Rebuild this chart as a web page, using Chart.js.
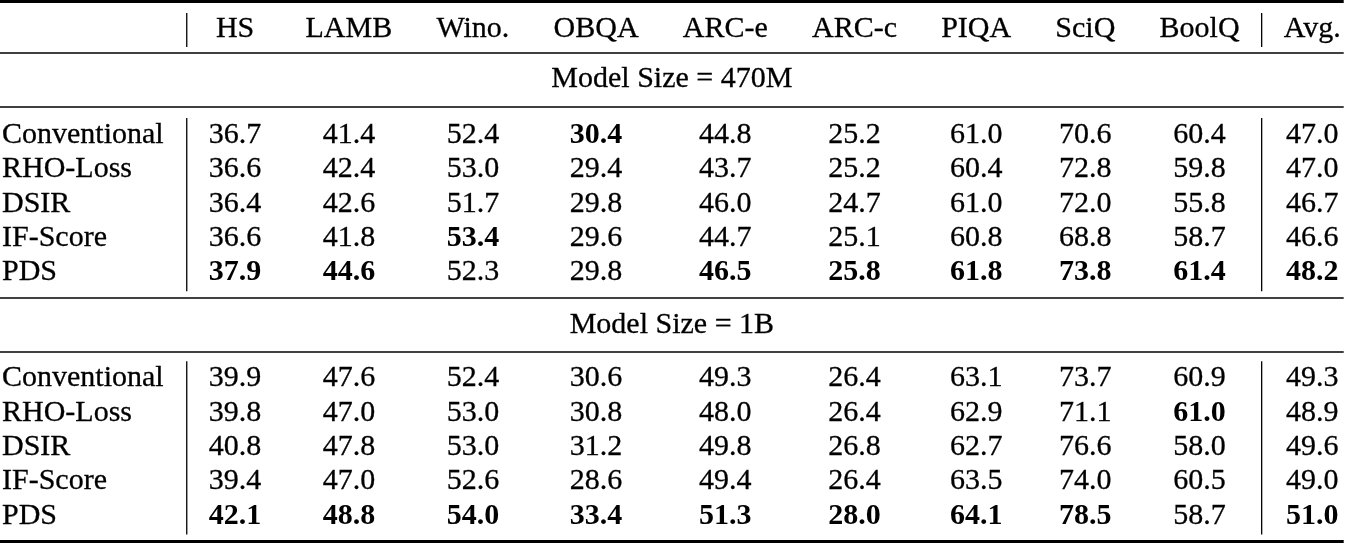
<!DOCTYPE html>
<html>
<head>
<meta charset="utf-8">
<script src="https://cdn.jsdelivr.net/npm/chart.js@4.4.1/dist/chart.umd.min.js"></script>
<style>
html, body { margin: 0; padding: 0; background: #fff; }
#wrap { width: 1349px; height: 547px; }
</style>
</head>
<body>
<div id="wrap"><canvas id="myChart"></canvas></div>
<script>
// table content
const benchmarks = ["HS", "LAMB", "Wino.", "OBQA", "ARC-e", "ARC-c", "PIQA", "SciQ", "BoolQ"];
const avgLabel = "Avg.";
const methods = ["Conventional", "RHO-Loss", "DSIR", "IF-Score", "PDS"];
const groupTitles = ["Model Size = 470M", "Model Size = 1B"];

const scores470M = [
  [36.7, 41.4, 52.4, 30.4, 44.8, 25.2, 61.0, 70.6, 60.4],
  [36.6, 42.4, 53.0, 29.4, 43.7, 25.2, 60.4, 72.8, 59.8],
  [36.4, 42.6, 51.7, 29.8, 46.0, 24.7, 61.0, 72.0, 55.8],
  [36.6, 41.8, 53.4, 29.6, 44.7, 25.1, 60.8, 68.8, 58.7],
  [37.9, 44.6, 52.3, 29.8, 46.5, 25.8, 61.8, 73.8, 61.4]
];
const avg470M = [47.0, 47.0, 46.7, 46.6, 48.2];

const scores1B = [
  [39.9, 47.6, 52.4, 30.6, 49.3, 26.4, 63.1, 73.7, 60.9],
  [39.8, 47.0, 53.0, 30.8, 48.0, 26.4, 62.9, 71.1, 61.0],
  [40.8, 47.8, 53.0, 31.2, 49.8, 26.8, 62.7, 76.6, 58.0],
  [39.4, 47.0, 52.6, 28.6, 49.4, 26.4, 63.5, 74.0, 60.5],
  [42.1, 48.8, 54.0, 33.4, 51.3, 28.0, 64.1, 78.5, 58.7]
];
const avg1B = [49.3, 48.9, 49.6, 49.0, 51.0];

// layout / style
const FONT = "'Liberation Serif', 'Times New Roman', serif";
const FONT_PX = 30;
const SEP = 22.1;
const PAD_L = 3, PAD_R = 3;
const W = 1349, H = 547;
const HEADER_Y = 37;
const TITLE_Y = [87, 333];
const BLOCK_Y = [143, 386.3];
const ROW_PITCH = 34.3;
const RULES = [[1.5, 3], [53, 1.6], [107, 1.6], [298, 1.6], [352, 1.6], [541.5, 3]];

const groups = [
  { title: groupTitles[0], scores: scores470M, avg: avg470M },
  { title: groupTitles[1], scores: scores1B, avg: avg1B }
];

const meas = document.createElement("canvas").getContext("2d");
function fontStr(bold) { return (bold ? "bold " : "") + FONT_PX + "px " + FONT; }
function textW(t, bold) { meas.font = fontStr(bold); return meas.measureText(t).width; }

// column widths like a tabular: widest entry + padding on both sides
const labelW = Math.max(...methods.map(m => textW(m)));
const colW = benchmarks.map((b, c) => Math.max(textW(b),
  ...groups.flatMap(g => g.scores.map(r => textW(r[c].toFixed(1), true)))));
const avgW = Math.max(textW(avgLabel), ...groups.flatMap(g => g.avg.map(v => textW(v.toFixed(1), true))));

const bar1 = PAD_L + labelW + SEP;
const colCenter = [];
let xRun = bar1;
colW.forEach(w => { colCenter.push(xRun + SEP + w / 2); xRun += w + 2 * SEP; });
const bar2 = xRun;
const avgCenter = bar2 + SEP + avgW / 2;
const tableRight = bar2 + SEP + avgW + PAD_R;

// cells as scatter points (value carried along for the label)
function colMax(scores, c) { return Math.max(...scores.map(r => r[c])); }
const datasets = groups.map((g, gi) => {
  const pts = [];
  g.scores.forEach((row, r) => {
    const y = BLOCK_Y[gi] + r * ROW_PITCH;
    row.forEach((v, c) => pts.push({ x: colCenter[c], y: y, v: v, bold: v === colMax(g.scores, c) }));
    const amax = Math.max(...g.avg);
    pts.push({ x: avgCenter, y: y, v: g.avg[r], bold: g.avg[r] === amax });
  });
  return { label: g.title, data: pts, pointRadius: 0, showLine: false };
});

// regular glyphs a touch heavier, like the printed table
function putText(ctx, t, x, y, bold) {
  ctx.font = fontStr(bold);
  ctx.fillText(t, x, y);
  if (!bold) {
    ctx.lineWidth = 0.3;
    ctx.strokeText(t, x, y);
  }
}

const tablePlugin = {
  id: "tableText",
  afterDatasetsDraw(chart) {
    const ctx = chart.ctx;
    const xs = chart.scales.x, ys = chart.scales.y;
    const px = v => xs.getPixelForValue(v), py = v => ys.getPixelForValue(v);
    ctx.save();
    ctx.fillStyle = "#000";
    ctx.strokeStyle = "#000";
    ctx.textBaseline = "alphabetic";

    // horizontal rules
    RULES.forEach(([y, lw]) => {
      ctx.lineWidth = lw;
      ctx.beginPath();
      ctx.moveTo(px(0), py(y));
      ctx.lineTo(px(tableRight), py(y));
      ctx.stroke();
    });

    // vertical separators
    ctx.lineWidth = 1.3;
    const spans = [[HEADER_Y - 24, HEADER_Y + 10]];
    BLOCK_Y.forEach(b => spans.push([b - 25, b + (methods.length - 1) * ROW_PITCH + 11]));
    spans.forEach(([a, b]) => {
      [bar1, bar2].forEach(x => {
        ctx.beginPath();
        ctx.moveTo(px(x), py(a));
        ctx.lineTo(px(x), py(b));
        ctx.stroke();
      });
    });

    // header
    ctx.textAlign = "center";
    benchmarks.forEach((b, c) => putText(ctx, b, px(colCenter[c]), py(HEADER_Y), false));
    putText(ctx, avgLabel, px(avgCenter), py(HEADER_Y), false);

    // group titles (span whole table) and method names
    groups.forEach((g, gi) => {
      ctx.textAlign = "center";
      putText(ctx, g.title, px(tableRight / 2), py(TITLE_Y[gi]), false);
      ctx.textAlign = "left";
      methods.forEach((m, r) => putText(ctx, m, px(PAD_L - 1), py(BLOCK_Y[gi] + r * ROW_PITCH), false));
    });

    // cell values at the points the scales placed
    ctx.textAlign = "center";
    chart.data.datasets.forEach((ds, di) => {
      const meta = chart.getDatasetMeta(di);
      meta.data.forEach((el, i) => {
        const d = ds.data[i];
        putText(ctx, d.v.toFixed(1), el.x, el.y, d.bold);
      });
    });
    ctx.restore();
  }
};

new Chart("myChart", {
  type: "scatter",
  data: { datasets: datasets },
  options: {
    responsive: true,
    maintainAspectRatio: false,
    animation: false,
    events: [],
    layout: { padding: 0 },
    scales: {
      x: { type: "linear", min: 0, max: W, display: false },
      y: { type: "linear", min: 0, max: H, reverse: true, display: false }
    },
    plugins: { legend: { display: false }, tooltip: { enabled: false } }
  },
  plugins: [tablePlugin]
});
</script>
</body>
</html>
